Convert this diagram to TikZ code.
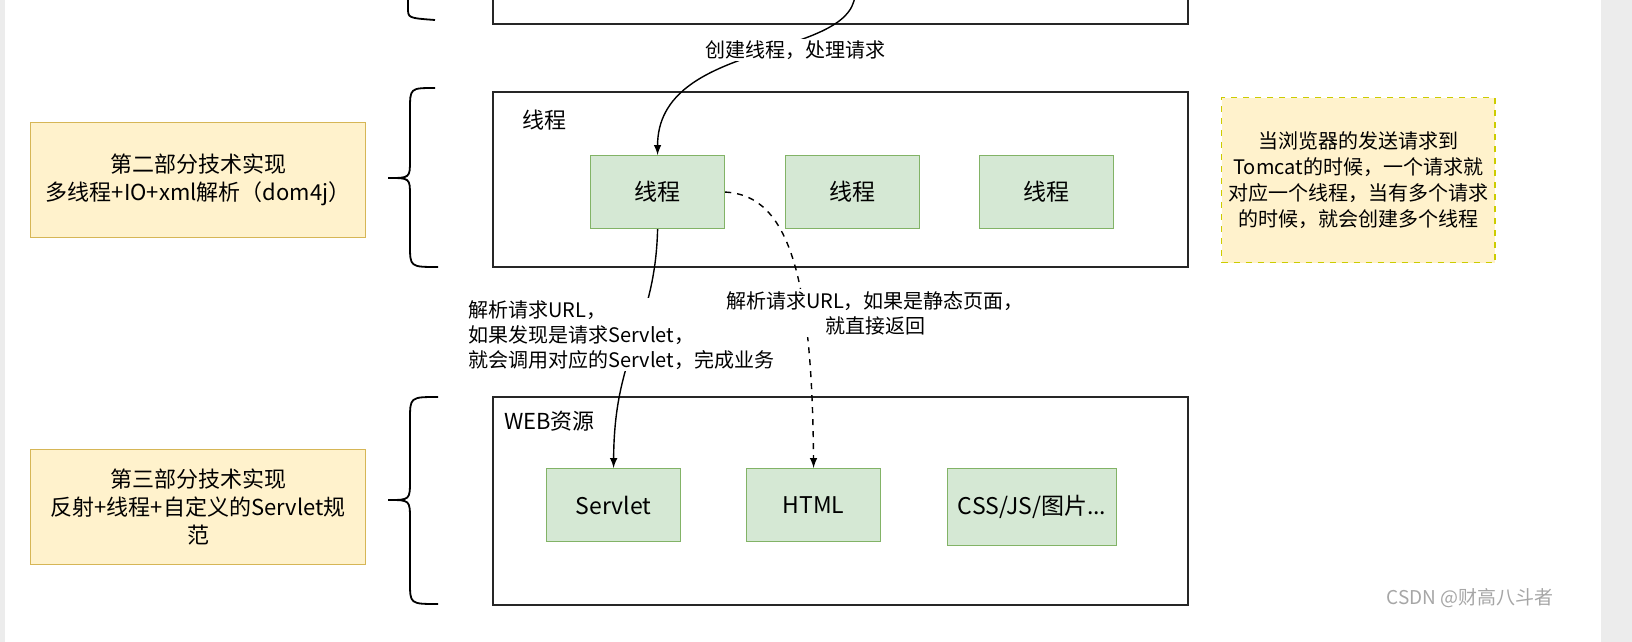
\documentclass[tikz,border=0pt]{standalone}
\usepackage{fontspec}
\setmainfont{Noto Sans CJK SC}
\definecolor{itemfill}{HTML}{D5E8D4}
\definecolor{itemline}{HTML}{82B366}
\definecolor{partfill}{HTML}{FFF2CC}
\definecolor{partline}{HTML}{D6B656}
\definecolor{noteline}{HTML}{CCCC00}
\begin{document}
\tikzset{
  frame/.style={draw=black!85,line width=1.2pt},
  item/.style={draw=itemline,fill=itemfill,line width=0.6pt,
    minimum width=67pt,minimum height=36.5pt,font=\fontsize{11.5}{13}\selectfont},
  part/.style={draw=partline,fill=partfill,line width=0.6pt,align=center,
    minimum width=167.5pt,minimum height=57.5pt,font=\fontsize{11}{14}\selectfont},
  brace/.style={draw=black,line width=0.9pt},
  lbl/.style={fill=white,font=\fontsize{10}{12.5}\selectfont,inner sep=1pt}
}
\begin{tikzpicture}[x=0.5pt,y=-0.5pt]
\useasboundingbox (0,0) rectangle (1632,642);
\fill[gray!15] (0,0) rectangle (5,642);
\fill[gray!15] (1601,0) rectangle (1632,642);
% top part (cut off)
\draw[frame] (493,-10) -- (493,24) -- (1188,24) -- (1188,-10);
\draw[brace] (408,-10) -- (408,8) .. controls (408,18) .. (435,20);
% second part
\draw[frame] (493,92) rectangle (1188,267);
\node[anchor=west,font=\fontsize{11}{13}\selectfont] (title2) at (515,120) {线程};
\node[item,anchor=north west] (t1) at (590,155) {线程};
\node[item,anchor=north west] (t2) at (785,155) {线程};
\node[item,anchor=north west] (t3) at (979,155) {线程};
\node[part,anchor=north west] (p2) at (30,122) {第二部分技术实现\\多线程+IO+xml解析（dom4j）};
\draw[brace] (435,88) .. controls (410,88) .. (410,110) -- (410,160)
  .. controls (410,178) .. (388,178) .. controls (410,178) .. (410,196) -- (410,245)
  .. controls (410,267) .. (438,267);
\node[draw=noteline,dashed,fill=partfill,line width=0.6pt,anchor=north west,
  minimum width=132.5pt,minimum height=82.5pt,align=center,
  font=\fontsize{10}{13}\selectfont] (note) at (1221,97)
  {当浏览器的发送请求到\\Tomcat的时候，一个请求就\\对应一个线程，当有多个请求\\的时候，就会创建多个线程};
% third part
\draw[frame] (493,397) rectangle (1188,605);
\node[anchor=west,font=\fontsize{11}{13}\selectfont] (title3) at (497,421) {WEB资源};
\node[item,anchor=north west] (sv) at (546,468) {Servlet};
\node[item,anchor=north west] (html) at (746,468) {HTML};
\node[item,anchor=north west,minimum width=84.5pt,minimum height=38.5pt] (res) at (947,468) {CSS/JS/图片...};
\node[part,anchor=north west] (p3) at (30,449) {第三部分技术实现\\反射+线程+自定义的Servlet规\\范};
\draw[brace] (438,397) .. controls (410,397) .. (410,420) -- (410,480)
  .. controls (410,500) .. (388,500) .. controls (410,500) .. (410,520) -- (410,582)
  .. controls (410,604) .. (438,604);
% connectors
\coordinate (src) at (855,-5);
\draw[-latex,line width=0.7pt] (src) .. controls (850,60) and (657,40) .. (t1.north);
\node[lbl] (l1) at (795,50) {创建线程，处理请求};
\draw[-latex,line width=0.7pt] (t1.south) .. controls (655,330) and (614,350) .. (sv.north);
\draw[-latex,dashed,line width=0.7pt] (t1.east) .. controls (790,195) and (812,280) .. (html.north);
\node[lbl,align=left,anchor=north west] (l2) at (466,298) {解析请求URL，\\如果发现是请求Servlet，\\就会调用对应的Servlet，完成业务};
\node[lbl,align=center] (l3) at (875,313) {解析请求URL，如果是静态页面，\\就直接返回};
\node[text=gray!70,font=\fontsize{9.5}{11}\selectfont] (wm) at (1470,598) {CSDN @财高八斗者};
\end{tikzpicture}
\end{document}
